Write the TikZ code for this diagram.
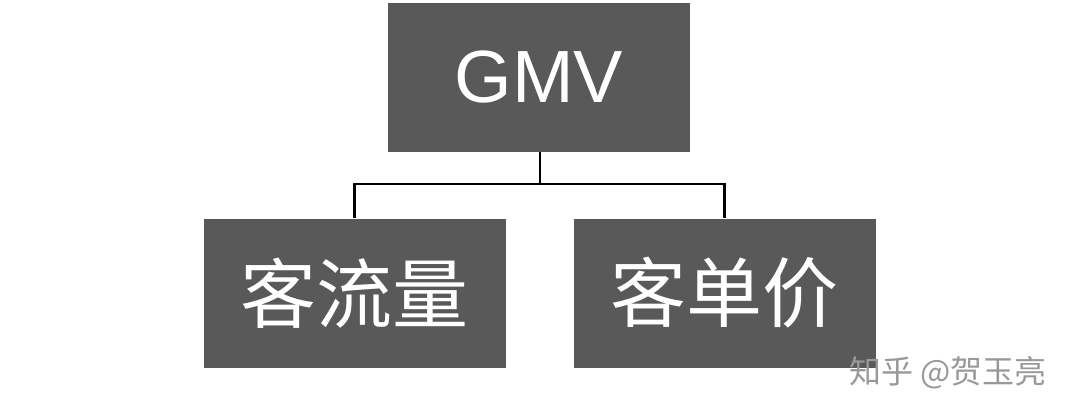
\documentclass[tikz,border=0pt]{standalone}
\usepackage{fontspec}
\setmainfont{Liberation Sans}
\newfontfamily\cjk{Noto Sans CJK SC}
\begin{document}
\begin{tikzpicture}[x=1pt,y=-1pt,
  box/.style={draw=none,fill=boxgray,text=white,minimum width=302pt,minimum height=149pt,inner sep=0pt},
  conn/.style={line width=2.4pt,black}]
\definecolor{boxgray}{HTML}{595959}
\useasboundingbox (0,0) rectangle (1079,418);
\fill[white] (0,0) rectangle (1079,418);
\node[box] (gmv) at (539,77) {\fontsize{74}{74}\selectfont GMV};
\node[box] (kl) at (354.5,293) {\cjk\fontsize{76}{76}\selectfont 客流量};
\node[box] (kd) at (724.5,293) {\cjk\fontsize{76}{76}\selectfont 客单价};
\coordinate (j) at (540,184);
\draw[conn] (gmv.south -| j) -- (j);
\draw[conn] (kl.north) |- (j) -| (kd.north);
\node[text=gray!80,anchor=west] (wm) at (846,373) {\cjk\fontsize{32}{32}\selectfont 知乎 @贺玉亮};
\end{tikzpicture}
\end{document}
